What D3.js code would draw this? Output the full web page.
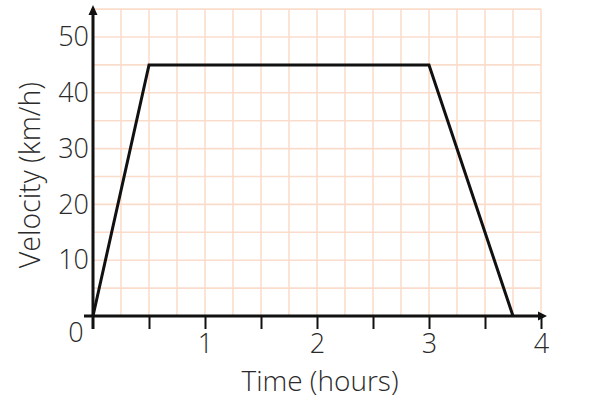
<!DOCTYPE html>
<html><head><meta charset="utf-8">
<script src="https://cdn.jsdelivr.net/npm/d3@7"></script>
<style>body{margin:0;background:#fff}svg{display:block}text{font-family:"Open Sans",Lato,sans-serif;font-weight:350;fill:#2a2a2a}</style>
</head><body>
<svg id="c" width="591" height="411"></svg>
<script>
const times = [0, 0.5, 3, 3.75];
const velocities = [0, 45, 45, 0];
const xTickValues = [0.5, 1, 1.5, 2, 2.5, 3, 3.5, 4];
const xTickLabels = ["", "1", "", "2", "", "3", "", "4"];
const yTickValues = [10, 20, 30, 40, 50];
const xTitle = "Time (hours)";
const yTitle = "Velocity (km/h)";

const svg = d3.select("#c");
const x = d3.scaleLinear().domain([0, 4]).range([93, 541]);
const y = d3.scaleLinear().domain([0, 50]).range([316, 37]);

// grid
const g = svg.append("g");
g.selectAll("line.v").data(d3.range(1, 17).map(i => i * 0.25)).join("line")
  .attr("x1", d => x(d)).attr("x2", d => x(d)).attr("y1", y(0)).attr("y2", y(55))
  .attr("stroke", "#fadccb").attr("stroke-width", 1.6);
g.selectAll("line.h").data(d3.range(1, 12).map(i => i * 5)).join("line")
  .attr("x1", x(0)).attr("x2", x(4)).attr("y1", d => y(d)).attr("y2", d => y(d))
  .attr("stroke", "#fadccb").attr("stroke-width", 1.6);

// x axis
const xa = svg.append("g").attr("transform", `translate(0,${y(0)})`)
  .call(d3.axisBottom(x).tickValues(xTickValues).tickSize(13).tickPadding(5)
    .tickFormat((d, i) => xTickLabels[i]));
xa.select(".domain").remove();
xa.selectAll(".tick line").attr("stroke", "#111").attr("stroke-width", 2);
xa.selectAll(".tick text").style("font-size", "27px").attr("fill", "#2a2a2a");

// y axis
const ya = svg.append("g").attr("transform", `translate(${x(0)},0)`)
  .call(d3.axisLeft(y).tickValues(yTickValues).tickSize(0).tickPadding(4));
ya.select(".domain").remove();
ya.selectAll(".tick text").style("font-size", "27px").attr("fill", "#2a2a2a");

// axis lines with arrows
svg.append("line").attr("x1", x(0) - 9).attr("x2", x(4) + 2).attr("y1", y(0)).attr("y2", y(0))
  .attr("stroke", "#111").attr("stroke-width", 3);
svg.append("path").attr("d", `M${x(4)+6},${y(0)} L${x(4)-3},${y(0)-4.5} L${x(4)-3},${y(0)+4.5} Z`).attr("fill", "#111");
svg.append("line").attr("x1", x(0)).attr("x2", x(0)).attr("y1", y(0) + 13).attr("y2", y(55))
  .attr("stroke", "#111").attr("stroke-width", 3);
svg.append("path").attr("d", `M${x(0)},${y(55)-4} L${x(0)-4.5},${y(55)+6} L${x(0)+4.5},${y(55)+6} Z`).attr("fill", "#111");

// zero label
svg.append("text").attr("x", x(0) - 17).attr("y", y(0) + 26).attr("text-anchor", "middle")
  .style("font-size", "27px").text("0");

// data line
const line = d3.line().x((d, i) => x(times[i])).y(d => y(d));
svg.append("path").attr("d", line(velocities)).attr("fill", "none")
  .attr("stroke", "#111").attr("stroke-width", 3).attr("stroke-linejoin", "miter");

// titles
svg.append("text").attr("x", 320).attr("y", 391).attr("text-anchor", "middle")
  .style("font-size", "28px").text(xTitle);
svg.append("text").attr("transform", `translate(40,175) rotate(-90)`).attr("text-anchor", "middle")
  .style("font-size", "28.5px").text(yTitle);
</script>
</body></html>
